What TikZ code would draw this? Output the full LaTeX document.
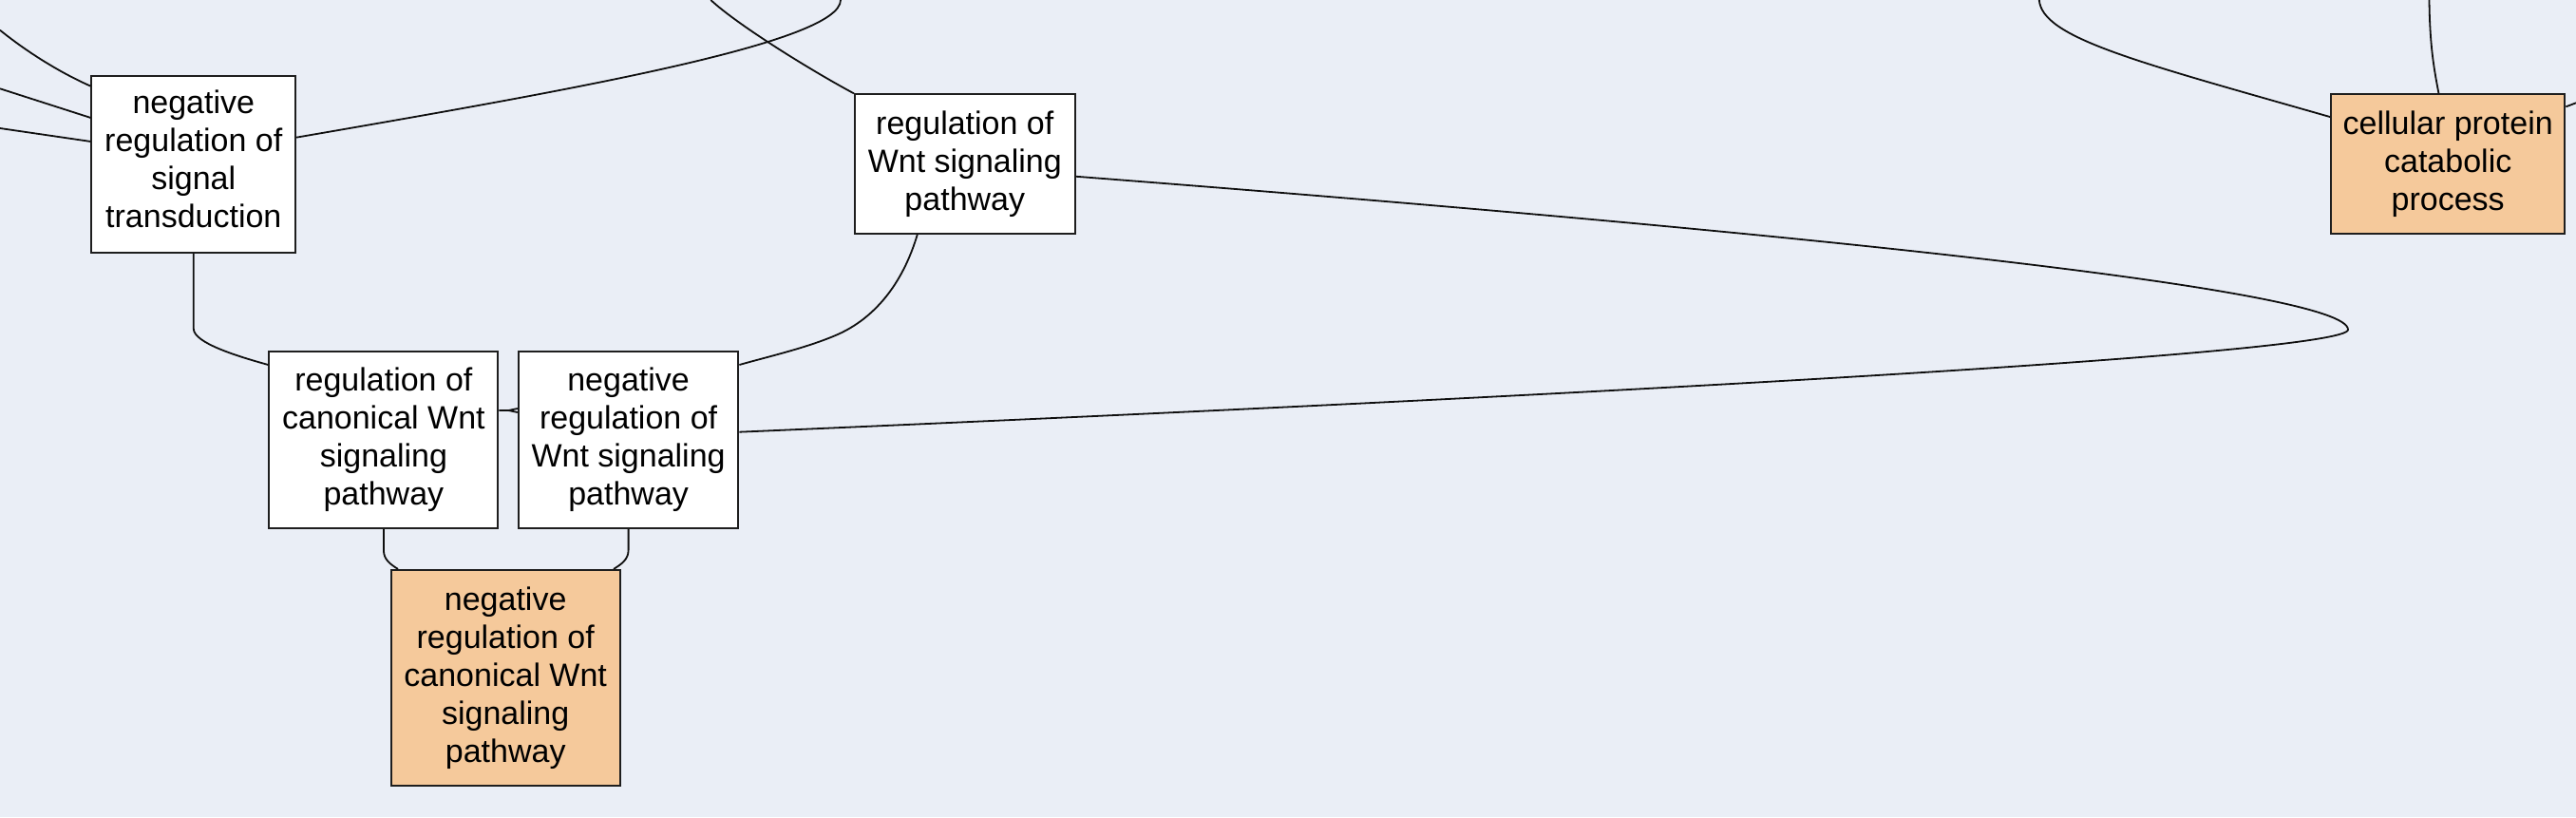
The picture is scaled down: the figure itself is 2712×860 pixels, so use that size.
\documentclass[tikz,border=0pt]{standalone}
\usepackage{fontspec}
\setmainfont{Liberation Sans}
\usetikzlibrary{calc}
\definecolor{bg}{RGB}{234,238,246}
\definecolor{orangebox}{RGB}{245,201,155}
\definecolor{boxborder}{RGB}{30,30,30}
\definecolor{edgecol}{RGB}{15,15,15}
\tikzset{
  gobox/.style={draw=boxborder, line width=2pt, fill=white, inner sep=0pt,
    align=center, font=\fontsize{34}{40}\selectfont},
  hitbox/.style={gobox, fill=orangebox},
  conn/.style={draw=edgecol, line width=1.8pt}
}
\begin{document}
\begin{tikzpicture}[x=1pt,y=-1pt]
\fill[bg] (0,0) rectangle (2712,860);
\useasboundingbox (0,0) rectangle (2712,860);

% nodes
\node[gobox, minimum width=214.7pt, minimum height=185.7pt] (nrst) at (203.8,172.8)
  {negative\\regulation of\\signal\\transduction\\[-29.5pt]\mbox{}};
\node[gobox, minimum width=241pt, minimum height=186pt] (rcw) at (403.9,463)
  {regulation of\\canonical Wnt\\signaling\\pathway};
\node[gobox, minimum width=231.6pt, minimum height=186pt] (nrw) at (661.6,463)
  {negative\\regulation of\\Wnt signaling\\pathway};
\node[hitbox, minimum width=241pt, minimum height=226.7pt] (nrcw) at (532.2,713.3)
  {negative\\regulation of\\canonical Wnt\\signaling\\pathway};
\node[gobox, minimum width=231.7pt, minimum height=146.3pt] (rw) at (1015.8,172.5)
  {regulation of\\Wnt signaling\\pathway};
\node[hitbox, minimum width=246.3pt, minimum height=146.3pt] (cpcp) at (2577.2,172.5)
  {cellular protein\\catabolic\\process};

% free ends at the picture's edges
\coordinate (offL1) at (0,31.7);
\coordinate (offL2) at (0,93.3);
\coordinate (offL3) at (0,135);
\coordinate (offT1) at (885,0);
\coordinate (offT2) at (748.3,0);
\coordinate (offT3) at (2146.8,0);
\coordinate (offT4) at (2557.5,0);
\coordinate (offR1) at (2712,108.3);

% connectors
\draw[conn] (offL1) .. controls (25,52) and (60,75) .. ($(nrst.north west)+(0,11.7)$);
\draw[conn] (offL2) -- ($(nrst.north west)+(0,45)$);
\draw[conn] (offL3) -- ($(nrst.north west)+(0,70)$);
\draw[conn] ($(nrst.north east)+(0,65.7)$) .. controls (600,95) and (885,45) .. (offT1);
\draw[conn] (offT2) .. controls (775,25) and (850,72) .. (rw.north west);
\draw[conn] (nrst.south) -- ++(0,79.3) .. controls +(0,15) and (250,375) .. ($(rcw.north west)+(0,15)$);
\draw[conn] ($(rw.south west)+(66.9,0)$) .. controls (950,300) and (920,335) .. (882,352)
  .. controls (850,366) and (810,375) .. ($(nrw.north east)+(0,15)$);
\draw[conn] ($(rw.north east)+(0,87.4)$) .. controls (1900,245) and (2472,305) .. (2472,347)
  .. controls (2472,372) and (1700,415) .. ($(nrw.north east)+(0,85.7)$);
\draw[conn] ($(rcw.north east)+(0,63)$) -- ++(10,0) -- ($(nrw.north west)+(0,61)$);
\draw[conn] ($(rcw.north east)+(0,63)$) ++(10,0) -- ($(nrw.north west)+(0,65)$);
\draw[conn] (rcw.south) -- ++(0,22) .. controls +(0,10) and +(-8,-5) .. ($(nrcw.north west)+(8.3,0)$);
\draw[conn] (nrw.south) -- ++(0,22) .. controls +(0,10) and +(8,-5) .. ($(nrcw.north east)+(-7.7,0)$);
\draw[conn] (offT3) .. controls (2150,40) and (2250,65) .. ($(cpcp.north west)+(0,24.7)$);
\draw[conn] (offT4) .. controls (2558,50) and (2563,75) .. ($(cpcp.north west)+(114.4,0)$);
\draw[conn] ($(cpcp.north east)+(0,14)$) -- (offR1);
\end{tikzpicture}
\end{document}
